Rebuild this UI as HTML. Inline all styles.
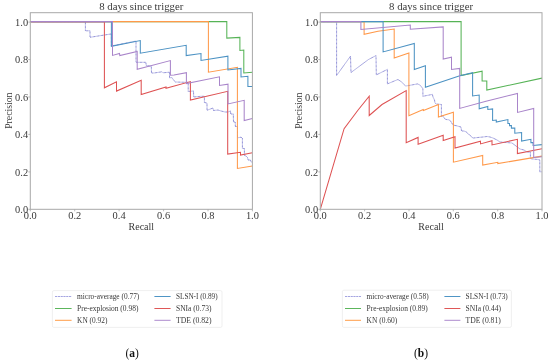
<!DOCTYPE html><html><head><meta charset="utf-8"><style>html,body{margin:0;padding:0;background:#fff;}svg{display:block}</style></head><body>
<svg width="550" height="363" viewBox="0 0 550 363" font-family='"Liberation Serif", serif' fill="#383838">
<rect width="550" height="363" fill="#fff"/>
<clipPath id="c0"><rect x="30.3" y="12.7" width="222.1" height="196.60000000000002"/></clipPath>
<g clip-path="url(#c0)" fill="none" stroke-linejoin="miter" stroke-linecap="butt">
<polyline points="30.3,21.6 85.4,21.6 85.4,30.8 90.0,30.8 90.0,37.3 110.8,34.0 111.3,34.0 111.3,46.0 136.0,41.1 136.0,62.3 145.8,62.3 146.3,65.5 151.3,66.3 151.5,73.0 154.0,73.0 162.0,71.8 163.0,72.8 169.5,72.2 169.5,77.7 172.0,77.7 173.9,80.5 175.5,82.0 185.4,82.3 188.2,82.3 188.2,91.5 193.5,91.0 193.7,97.0 201.0,96.3 204.4,96.3 204.4,102.5 207.0,103.0 207.0,110.3 213.0,108.0 213.5,110.5 218.0,110.0 221.0,111.0 225.0,112.0 228.0,112.0 230.5,111.0 230.7,114.0 233.3,114.0 233.5,122.0 235.3,122.0 235.3,126.5 237.5,126.5 237.5,137.8 241.0,137.2 242.4,138.0 242.4,148.4 244.4,148.5 244.4,155.3 246.0,156.0 247.5,157.5 248.0,160.0 250.5,160.0 251.0,162.0 252.4,162.0" stroke="#5c5cc4" stroke-width="0.85" stroke-opacity="1" stroke-dasharray="0.8,0.55"/>
<polyline points="30.3,21.6 226.8,21.6 226.8,38.1 239.9,37.4 239.9,50.5 243.8,50.1 243.8,72.9 252.4,72.2" stroke="#56b356" stroke-width="1.05" stroke-opacity="1"/>
<polyline points="30.3,21.6 208.4,21.6 208.4,72.2 237.4,67.3 237.4,168.4 252.4,165.9" stroke="#ff994a" stroke-width="1.05" stroke-opacity="1"/>
<polyline points="30.3,21.6 111.4,21.6 111.4,46.3 140.3,40.6 140.3,53.2 186.2,45.3 186.2,55.6 201.0,53.5 201.0,60.5 227.9,56.2 227.9,69.9 241.0,68.4 241.0,77.0 247.9,76.3 247.9,86.4 252.4,86.4" stroke="#4c92c3" stroke-width="1.05" stroke-opacity="1"/>
<polyline points="30.3,21.6 104.4,21.6 104.4,87.8 116.5,81.8 116.5,91.1 141.2,80.2 141.2,94.6 166.0,86.9 166.0,88.2 190.4,81.6 190.4,100.0 227.7,91.3 227.7,154.1 240.5,152.3 240.5,155.0 252.4,152.8" stroke="#de5253" stroke-width="1.05" stroke-opacity="1"/>
<polyline points="30.3,21.6 112.5,21.6 112.5,55.4 119.5,53.5 119.8,55.6 137.2,51.4 137.2,69.2 170.4,60.6 170.4,75.3 174.0,75.0 186.4,72.7 186.4,83.5 219.5,76.8 219.5,85.5 228.0,84.2 228.0,103.9 244.2,100.3 244.2,120.5 252.4,118.4" stroke="#a985ca" stroke-width="1.05" stroke-opacity="1"/>
</g>
<rect x="30.3" y="12.7" width="222.1" height="196.60000000000002" fill="none" stroke="#a8a8a8" stroke-width="1"/>
<line x1="28.3" y1="209.3" x2="30.3" y2="209.3" stroke="#a8a8a8" stroke-width="0.8"/>
<text x="28.1" y="213.0" font-size="10.4" text-anchor="end">0.0</text>
<line x1="30.3" y1="209.3" x2="30.3" y2="211.3" stroke="#a8a8a8" stroke-width="0.8"/>
<text x="30.3" y="219.3" font-size="10.4" text-anchor="middle">0.0</text>
<line x1="28.3" y1="171.9" x2="30.3" y2="171.9" stroke="#a8a8a8" stroke-width="0.8"/>
<text x="28.1" y="175.6" font-size="10.4" text-anchor="end">0.2</text>
<line x1="74.7" y1="209.3" x2="74.7" y2="211.3" stroke="#a8a8a8" stroke-width="0.8"/>
<text x="74.7" y="219.3" font-size="10.4" text-anchor="middle">0.2</text>
<line x1="28.3" y1="134.4" x2="30.3" y2="134.4" stroke="#a8a8a8" stroke-width="0.8"/>
<text x="28.1" y="138.1" font-size="10.4" text-anchor="end">0.4</text>
<line x1="119.1" y1="209.3" x2="119.1" y2="211.3" stroke="#a8a8a8" stroke-width="0.8"/>
<text x="119.1" y="219.3" font-size="10.4" text-anchor="middle">0.4</text>
<line x1="28.3" y1="97.0" x2="30.3" y2="97.0" stroke="#a8a8a8" stroke-width="0.8"/>
<text x="28.1" y="100.7" font-size="10.4" text-anchor="end">0.6</text>
<line x1="163.6" y1="209.3" x2="163.6" y2="211.3" stroke="#a8a8a8" stroke-width="0.8"/>
<text x="163.6" y="219.3" font-size="10.4" text-anchor="middle">0.6</text>
<line x1="28.3" y1="59.5" x2="30.3" y2="59.5" stroke="#a8a8a8" stroke-width="0.8"/>
<text x="28.1" y="63.2" font-size="10.4" text-anchor="end">0.8</text>
<line x1="208.0" y1="209.3" x2="208.0" y2="211.3" stroke="#a8a8a8" stroke-width="0.8"/>
<text x="208.0" y="219.3" font-size="10.4" text-anchor="middle">0.8</text>
<line x1="28.3" y1="22.1" x2="30.3" y2="22.1" stroke="#a8a8a8" stroke-width="0.8"/>
<text x="28.1" y="25.8" font-size="10.4" text-anchor="end">1.0</text>
<line x1="252.4" y1="209.3" x2="252.4" y2="211.3" stroke="#a8a8a8" stroke-width="0.8"/>
<text x="252.4" y="219.3" font-size="10.4" text-anchor="middle">1.0</text>
<text x="141.3" y="10.4" font-size="10.6" text-anchor="middle" textLength="84" lengthAdjust="spacingAndGlyphs">8 days since trigger</text>
<text x="141.3" y="229.6" font-size="10.8" text-anchor="middle" textLength="25.6" lengthAdjust="spacingAndGlyphs">Recall</text>
<text transform="translate(12.1,110.7) rotate(-90)" font-size="10.9" text-anchor="middle" textLength="36.2" lengthAdjust="spacingAndGlyphs">Precision</text>
<clipPath id="c1"><rect x="320.3" y="12.7" width="221.7" height="196.60000000000002"/></clipPath>
<g clip-path="url(#c1)" fill="none" stroke-linejoin="miter" stroke-linecap="butt">
<polyline points="320.3,21.6 336.6,21.6 336.6,75.5 350.5,56.2 351.0,72.5 368.5,59.5 376.0,55.6 376.3,74.9 387.4,69.4 387.4,83.9 397.9,79.5 401.0,81.5 405.7,86.0 409.0,85.5 417.4,83.9 420.0,85.0 422.9,88.7 422.9,96.3 432.4,94.4 433.0,97.0 434.5,100.0 435.0,103.0 436.0,104.0 441.4,104.5 441.4,116.4 443.0,116.0 444.5,118.5 446.0,119.5 449.0,119.8 451.0,121.5 452.0,124.0 453.5,124.0 454.0,125.5 456.0,125.6 459.0,126.5 461.0,127.0 461.5,131.0 464.0,131.0 466.5,132.0 468.0,134.0 470.0,135.0 472.0,137.5 473.5,138.0 478.0,137.5 483.0,137.0 487.0,136.5 490.0,137.0 493.0,138.0 497.0,140.0 500.0,142.0 506.0,142.5 512.0,143.0 516.0,146.0 520.0,149.0 524.0,150.0 527.0,152.0 530.4,152.0 530.4,158.6 533.0,159.0 538.0,159.5 539.8,160.0 539.8,171.8 542.0,171.8" stroke="#5c5cc4" stroke-width="0.85" stroke-opacity="1" stroke-dasharray="0.8,0.55"/>
<polyline points="320.3,21.6 461.1,21.6 461.1,75.6 482.1,71.2 482.1,80.9 486.8,80.9 486.8,90.1 542.0,78.1" stroke="#56b356" stroke-width="1.05" stroke-opacity="1"/>
<polyline points="320.3,21.6 364.1,21.6 364.1,34.3 378.0,31.3 394.2,29.0 394.2,58.1 408.9,53.0 408.9,115.8 423.2,109.6 423.4,110.5 438.4,104.6 438.4,117.0 453.4,112.2 453.4,162.2 482.7,155.4 482.7,165.1 497.8,162.3 497.8,163.6 542.0,156.1" stroke="#ff994a" stroke-width="1.05" stroke-opacity="1"/>
<polyline points="320.3,21.6 383.1,21.6 383.1,51.9 414.3,43.4 414.3,69.4 425.4,65.7 425.4,87.3 459.8,75.8 472.6,72.7 472.6,96.0 479.2,95.1 479.2,108.8 487.8,106.5 487.8,109.4 492.6,108.9 492.6,120.4 496.3,120.0 496.3,122.0 507.9,119.6 507.9,123.4 509.5,123.4 509.5,125.6 511.4,125.6 511.4,128.1 514.8,128.0 514.8,133.2 521.6,132.5 521.6,141.0 530.9,139.3 530.9,142.6 533.1,142.6 533.1,145.4 542.0,144.6" stroke="#4c92c3" stroke-width="1.05" stroke-opacity="1"/>
<polyline points="320.3,209.3 344.1,128.7 358.1,110.0 369.2,96.2 369.2,115.5 382.0,104.5 406.2,90.6 406.2,142.7 418.1,137.4 418.1,144.3 443.2,135.2 443.2,140.5 455.0,136.8 455.0,148.0 480.5,141.3 480.5,143.9 492.0,140.8 492.0,144.9 517.4,139.3 517.4,153.5 542.0,148.7" stroke="#de5253" stroke-width="1.05" stroke-opacity="1"/>
<polyline points="320.3,21.6 360.9,21.6 360.9,29.5 410.3,25.1 410.3,29.2 443.2,26.9 443.2,59.1 451.5,57.2 451.5,69.4 459.7,68.4 459.7,108.4 486.0,101.2 517.5,93.4 517.5,112.4 533.7,108.5 533.7,157.5 542.0,156.8" stroke="#a985ca" stroke-width="1.05" stroke-opacity="1"/>
</g>
<rect x="320.3" y="12.7" width="221.7" height="196.60000000000002" fill="none" stroke="#a8a8a8" stroke-width="1"/>
<line x1="318.3" y1="209.3" x2="320.3" y2="209.3" stroke="#a8a8a8" stroke-width="0.8"/>
<text x="318.1" y="213.0" font-size="10.4" text-anchor="end">0.0</text>
<line x1="320.3" y1="209.3" x2="320.3" y2="211.3" stroke="#a8a8a8" stroke-width="0.8"/>
<text x="320.3" y="219.3" font-size="10.4" text-anchor="middle">0.0</text>
<line x1="318.3" y1="171.9" x2="320.3" y2="171.9" stroke="#a8a8a8" stroke-width="0.8"/>
<text x="318.1" y="175.6" font-size="10.4" text-anchor="end">0.2</text>
<line x1="364.6" y1="209.3" x2="364.6" y2="211.3" stroke="#a8a8a8" stroke-width="0.8"/>
<text x="364.6" y="219.3" font-size="10.4" text-anchor="middle">0.2</text>
<line x1="318.3" y1="134.4" x2="320.3" y2="134.4" stroke="#a8a8a8" stroke-width="0.8"/>
<text x="318.1" y="138.1" font-size="10.4" text-anchor="end">0.4</text>
<line x1="409.0" y1="209.3" x2="409.0" y2="211.3" stroke="#a8a8a8" stroke-width="0.8"/>
<text x="409.0" y="219.3" font-size="10.4" text-anchor="middle">0.4</text>
<line x1="318.3" y1="97.0" x2="320.3" y2="97.0" stroke="#a8a8a8" stroke-width="0.8"/>
<text x="318.1" y="100.7" font-size="10.4" text-anchor="end">0.6</text>
<line x1="453.3" y1="209.3" x2="453.3" y2="211.3" stroke="#a8a8a8" stroke-width="0.8"/>
<text x="453.3" y="219.3" font-size="10.4" text-anchor="middle">0.6</text>
<line x1="318.3" y1="59.5" x2="320.3" y2="59.5" stroke="#a8a8a8" stroke-width="0.8"/>
<text x="318.1" y="63.2" font-size="10.4" text-anchor="end">0.8</text>
<line x1="497.7" y1="209.3" x2="497.7" y2="211.3" stroke="#a8a8a8" stroke-width="0.8"/>
<text x="497.7" y="219.3" font-size="10.4" text-anchor="middle">0.8</text>
<line x1="318.3" y1="22.1" x2="320.3" y2="22.1" stroke="#a8a8a8" stroke-width="0.8"/>
<text x="318.1" y="25.8" font-size="10.4" text-anchor="end">1.0</text>
<line x1="542.0" y1="209.3" x2="542.0" y2="211.3" stroke="#a8a8a8" stroke-width="0.8"/>
<text x="542.0" y="219.3" font-size="10.4" text-anchor="middle">1.0</text>
<text x="431.1" y="10.4" font-size="10.6" text-anchor="middle" textLength="84" lengthAdjust="spacingAndGlyphs">8 days since trigger</text>
<text x="431.1" y="229.6" font-size="10.8" text-anchor="middle" textLength="25.6" lengthAdjust="spacingAndGlyphs">Recall</text>
<text transform="translate(302.1,110.7) rotate(-90)" font-size="10.9" text-anchor="middle" textLength="36.2" lengthAdjust="spacingAndGlyphs">Precision</text>
<rect x="52.4" y="290.6" width="169.6" height="36.8" rx="1.5" fill="#fff" stroke="#ebebeb" stroke-width="0.8"/>
<line x1="55" y1="296.5" x2="71.6" y2="296.5" stroke="#a4a4e0" stroke-width="1" stroke-dasharray="2.2,0.6"/>
<text x="77.1" y="299.2" font-size="7.6" textLength="62.2" lengthAdjust="spacingAndGlyphs">micro-average (0.77)</text>
<line x1="55" y1="308.5" x2="71.6" y2="308.5" stroke="#5cb65c" stroke-width="1"/>
<text x="77.1" y="310.9" font-size="7.6" textLength="61.3" lengthAdjust="spacingAndGlyphs">Pre-explosion (0.98)</text>
<line x1="55" y1="320.3" x2="71.6" y2="320.3" stroke="#ff9d48" stroke-width="1"/>
<text x="77.1" y="322.5" font-size="7.6" textLength="30.3" lengthAdjust="spacingAndGlyphs">KN (0.92)</text>
<line x1="154.4" y1="296.5" x2="170.6" y2="296.5" stroke="#4f95c5" stroke-width="1"/>
<text x="176" y="299.2" font-size="7.6" textLength="41.6" lengthAdjust="spacingAndGlyphs">SLSN-I (0.89)</text>
<line x1="154.4" y1="308.5" x2="170.6" y2="308.5" stroke="#df5757" stroke-width="1"/>
<text x="176" y="310.9" font-size="7.6" textLength="35.5" lengthAdjust="spacingAndGlyphs">SNIa (0.73)</text>
<line x1="154.4" y1="320.3" x2="170.6" y2="320.3" stroke="#ad8acd" stroke-width="1"/>
<text x="176" y="322.5" font-size="7.6" textLength="35.5" lengthAdjust="spacingAndGlyphs">TDE (0.82)</text>
<rect x="342.4" y="290.2" width="169.0" height="37.2" rx="1.5" fill="#fff" stroke="#ebebeb" stroke-width="0.8"/>
<line x1="345" y1="296.5" x2="361" y2="296.5" stroke="#a4a4e0" stroke-width="1" stroke-dasharray="2.2,0.6"/>
<text x="366.6" y="299.2" font-size="7.6" textLength="62.0" lengthAdjust="spacingAndGlyphs">micro-average (0.58)</text>
<line x1="345" y1="308.5" x2="361" y2="308.5" stroke="#5cb65c" stroke-width="1"/>
<text x="366.6" y="310.9" font-size="7.6" textLength="61.1" lengthAdjust="spacingAndGlyphs">Pre-explosion (0.89)</text>
<line x1="345" y1="320.3" x2="361" y2="320.3" stroke="#ff9d48" stroke-width="1"/>
<text x="366.6" y="322.5" font-size="7.6" textLength="30.6" lengthAdjust="spacingAndGlyphs">KN (0.60)</text>
<line x1="444.4" y1="296.5" x2="460.4" y2="296.5" stroke="#4f95c5" stroke-width="1"/>
<text x="465.6" y="299.2" font-size="7.6" textLength="42.2" lengthAdjust="spacingAndGlyphs">SLSN-I (0.73)</text>
<line x1="444.4" y1="308.5" x2="460.4" y2="308.5" stroke="#df5757" stroke-width="1"/>
<text x="465.6" y="310.9" font-size="7.6" textLength="35.4" lengthAdjust="spacingAndGlyphs">SNIa (0.44)</text>
<line x1="444.4" y1="320.3" x2="460.4" y2="320.3" stroke="#ad8acd" stroke-width="1"/>
<text x="465.6" y="322.5" font-size="7.6" textLength="35.2" lengthAdjust="spacingAndGlyphs">TDE (0.81)</text>
<text x="125.5" y="357.3" font-size="11.5" fill="#111">(<tspan font-weight="bold">a</tspan>)</text>
<text x="414" y="357.3" font-size="11.5" fill="#111">(<tspan font-weight="bold">b</tspan>)</text>
</svg></body></html>
